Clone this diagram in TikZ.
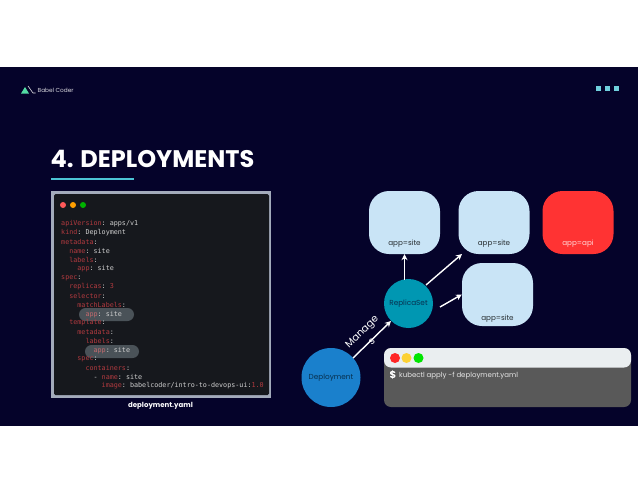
\documentclass[tikz,border=0pt]{standalone}
\usepackage{fontspec}
\setmainfont{Poppins}
\setmonofont{DejaVu Sans Mono}
\usetikzlibrary{arrows.meta,calc}
\definecolor{bandc}{HTML}{05032A}
\definecolor{tealc}{HTML}{4CC4D4}
\definecolor{framec}{HTML}{A3ABBB}
\definecolor{codebg}{HTML}{16181D}
\definecolor{keyc}{HTML}{B23A3F}
\definecolor{keypill}{HTML}{C46A6E}
\definecolor{valc}{HTML}{CFCFCF}
\definecolor{pillc}{HTML}{4A5258}
\definecolor{podc}{HTML}{C9E4F6}
\definecolor{apic}{HTML}{FF3333}
\definecolor{rsc}{HTML}{0097B2}
\definecolor{depc}{HTML}{1A80CC}
\definecolor{inkc}{HTML}{07304F}
\definecolor{termc}{HTML}{595959}
\definecolor{barc}{HTML}{EAEEF0}
\tikzset{
  podbox/.style={rounded corners=20pt,fill=podc,minimum width=71pt,minimum height=63pt,inner sep=0pt},
  podlabel/.style={font=\fontsize{7.2}{9}\selectfont,text=black!80!podc,inner sep=0pt},
  circ/.style={circle,inner sep=0pt,font=\fontsize{7.3}{9}\selectfont,text=inkc},
  flow/.style={draw=white,line width=1.4pt,-{Stealth[length=6pt,width=6pt]}},
  codeline/.style={anchor=west,inner sep=0pt,font=\ttfamily\fontsize{6.73}{9}\selectfont,text=valc},
  pill/.style={fill=pillc,rounded corners=6.5pt},
  dot/.style={circle,inner sep=0pt,minimum size=#1},
}
\newcommand{\kk}[1]{\textcolor{keyc}{#1}}
\newcommand{\kp}[1]{\textcolor{keypill}{#1}}
\begin{document}
\begin{tikzpicture}[x=1pt,y=-1pt]
\useasboundingbox (0,0) rectangle (638,493);
\fill[white] (0,0) rectangle (638,493);
\fill[bandc] (0,67) rectangle (638,426);
% logo
\fill[tealc!70!green!85!white] (21,93.5) -- (25,87) -- (29,93.5) -- cycle;
\draw[white!85!bandc,line width=.6pt] (28,86) -- (33,93) -- (35.5,93);
\node[anchor=west,inner sep=0pt,text=white!85!bandc,font=\fontsize{5.8}{8}\selectfont] (brand) at (37.5,90.3) {Babel Coder};
% top-right squares
\foreach \x in {598,607,616} \fill[tealc!80!white] (\x-2.5,85.5) rectangle (\x+2.5,90.5);
% title
\node[anchor=west,inner sep=0pt,text=white,font=\bfseries\fontsize{24}{29}\selectfont] (title) at (50.5,159) {4. DEPLOYMENTS};
\fill[tealc] (51,177.5) rectangle (134,179.5);
% code window
\fill[framec] (51,191) rectangle (271,398);
\fill[codebg,rounded corners=1.5pt] (54,194) rectangle (269,395);
\node[dot=6pt,fill=red!65!white] (c1) at (63,205) {};
\node[dot=6pt,fill=orange!75!yellow] (c2) at (73,205) {};
\node[dot=6pt,fill=green!70!black] (c3) at (83,205) {};
\fill[pill] (79,308) rectangle (134,321);
\fill[pill] (85,345) rectangle (139,358);
\node[codeline] at (61,224) {\kk{apiVersion}: apps/v1};
\node[codeline] at (61,233) {\kk{kind}: Deployment};
\node[codeline] at (61,242) {\kk{metadata}:};
\node[codeline] at (69.1,251) {\kk{name}: site};
\node[codeline] at (69.1,260) {\kk{labels}:};
\node[codeline] at (77.2,269) {\kk{app}: site};
\node[codeline] at (61,278) {\kk{spec}:};
\node[codeline] at (69.1,287) {\kk{replicas}: \kk{3}};
\node[codeline] at (69.1,296) {\kk{selector}:};
\node[codeline] at (77.2,305) {\kk{matchLabels}:};
\node[codeline] at (85.3,314.5) {\kp{app}: site};
\node[codeline] at (69.1,323) {\kk{template}:};
\node[codeline] at (77.2,332) {\kk{metadata}:};
\node[codeline] at (85.3,341) {\kk{labels}:};
\node[codeline] at (93.4,350.5) {\kp{app}: site};
\node[codeline] at (77.2,359) {\kk{spec}:};
\node[codeline] at (85.3,368) {\kk{containers}:};
\node[codeline] at (93.4,377) {- \kk{name}: site};
\node[codeline] at (101.5,386) {\kk{image}: babelcoder/intro-to-devops-ui:\kk{1.0}};
\node[inner sep=0pt,text=white,font=\bfseries\fontsize{7}{9}\selectfont] (yaml) at (160.5,406) {deployment.yaml};
% pods
\node[podbox] (b1) at (404.5,222.5) {};
\node[podbox] (b2) at (494,222.5) {};
\node[podbox,fill=apic] (b3) at (578,222.5) {};
\node[podbox] (b4) at (497.5,294.5) {};
\node[podlabel] at (404.5,243.7) {app=site};
\node[podlabel] at (494,243.7) {app=site};
\node[podlabel,text=white!80!apic] at (578,243.7) {app=api};
\node[podlabel] at (497.5,318.2) {app=site};
% circles
\node[circ,fill=rsc,minimum size=49pt] (rs) at (408.5,303.5) {ReplicaSet};
\node[circ,fill=depc,minimum size=59pt] (dep) at (331,377.5) {Deployment};
% connectors
\coordinate (a1s) at (404.5,279.5);
\coordinate (a2s) at (426,285);
\coordinate (a2e) at (462,254);
\coordinate (a3s) at (440,307);
\coordinate (a4s) at (353,358);
\coordinate (a4e) at (391,321);
\draw[flow] (a1s) -- (b1.south);
\draw[flow] (a2s) -- (a2e);
\draw[flow] (a3s) -- (b4.west);
\draw[flow] (a4s) -- (a4e);
\node[rotate=44,align=center,text=white,inner sep=0pt,font=\fontsize{10}{14}\selectfont] (mng) at (366.5,336.5) {Manage\\s};
% terminal
\fill[termc,rounded corners=7pt] (384,348) rectangle (631,407);
\fill[barc,rounded corners=7pt] (384,348) rectangle (631,367.5);
\node[dot=10pt,fill=red!85!white] (t1) at (395,358) {};
\node[dot=10pt,fill=yellow!60!orange!80!white] (t2) at (406.5,358) {};
\node[dot=10pt,fill=green!90!black] (t3) at (418.5,358) {};
\node[anchor=west,inner sep=0pt,text=white,font=\bfseries\fontsize{10}{11}\selectfont] (prompt) at (389.5,375) {\$};
\node[anchor=west,inner sep=0pt,text=white!85!termc,font=\fontsize{7}{9}\selectfont] (cmd) at (399,375.5) {kubectl apply -f deployment.yaml};
\end{tikzpicture}
\end{document}
